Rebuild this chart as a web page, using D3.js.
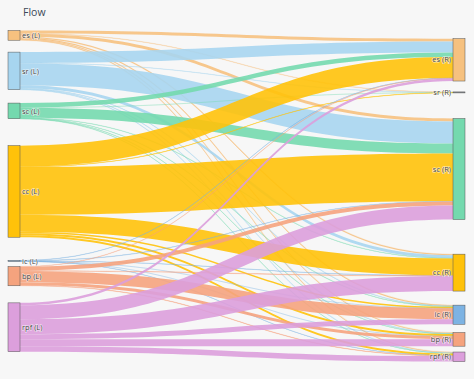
<!DOCTYPE html>
<html lang="en">
<head>
<meta charset="UTF-8">
<title>Flow</title>
<script src="https://d3js.org/d3.v7.min.js"></script>
<style>
  body { margin: 0; background: #fff; }
  svg { display: block; font-family: "Open Sans", Arial, sans-serif; }
  .lbl { font-size: 7.5px; fill: #444; paint-order: stroke; stroke: rgba(255,255,255,0.7); stroke-width: 1.2px; }
  .title { font-size: 10.5px; fill: #3c4858; }
</style>
</head>
<body>
<svg id="chart" width="474" height="379"></svg>
<script>
const sourceNames = ["es (L)", "sr (L)", "sc (L)", "cc (L)", "ic (L)", "bp (L)", "rpf (L)"];
const targetNames = ["es (R)", "sr (R)", "sc (R)", "cc (R)", "ic (R)", "bp (R)", "rpf (R)"];
const sourceColors = ["#f6c17f", "#a7d5ef", "#74d9ae", "#ffc20a", "#7db3e3", "#f5a37e", "#dc9fdc"];
const targetColors = ["#f6c17f", "#8a8f96", "#74d9ae", "#ffc20a", "#7db3e3", "#f5a37e", "#dc9fdc"];

// flow from each left node to es, sr, sc, cc, ic, bp, rpf on the right
const fromES  = [3, 0.4, 3, 1, 0.8, 0.8, 0.8];
const fromSR  = [11, 0.2, 22, 3, 0.5, 0.5, 0.5];
const fromSC  = [4.5, 0.1, 10, 0.3, 0.3, 0.3, 0.2];
const fromCC  = [21, 0.3, 48, 17, 1.5, 2, 2];
const fromIC  = [0.2, 0, 0.3, 0.2, 0.1, 0.1, 0.1];
const fromBP  = [0.3, 0, 4, 0.5, 11, 3, 0.5];
const fromRPF = [2.5, 0, 14, 15, 5, 7, 5.5];
const flows = [fromES, fromSR, fromSC, fromCC, fromIC, fromBP, fromRPF];

const width = 474, height = 379;
const yTop = 28, yBottom = 364;
const nodePad = 18.7, nodeW = 12;
const xLeft = 8, xRight = 453;

const svg = d3.select("#chart");

svg.append("rect")
    .attr("width", width)
    .attr("height", height)
    .attr("fill", "#f7f7f7");

const total = d3.sum(flows.flat());
const leftVals = flows.map(r => d3.sum(r));
const rightVals = targetNames.map((_, j) => d3.sum(flows, r => r[j]));

// node centres sit at their cumulative share of the column, heights use the padded scale
const yShare = d3.scaleLinear().domain([0, total]).range([yTop, yBottom]);
const ky = d3.scaleLinear().domain([0, total]).range([0, (yBottom - yTop) - 6 * nodePad]);

function column(vals, names, colors, x0) {
    let cum = 0;
    return vals.map((v, i) => {
        const cy = yShare(cum + v / 2);
        cum += v;
        const h = ky(v);
        return {name: names[i], color: colors[i], value: v, x0: x0, x1: x0 + nodeW,
                y0: cy - h / 2, y1: cy + h / 2, out: 0, inc: 0};
    });
}

const leftNodes = column(leftVals, sourceNames, sourceColors, xLeft);
const rightNodes = column(rightVals, targetNames, targetColors, xRight);

const links = [];
flows.forEach((row, i) => {
    row.forEach((v, j) => {
        if (v <= 0) return;
        links.push({source: leftNodes[i], target: rightNodes[j], value: v, w: ky(v)});
    });
});
// stack at source in target order, at target in source order
links.forEach(l => { l.sy = l.source.y0 + l.source.out; l.source.out += l.w; });
links.forEach(l => { l.ty = l.target.y0 + l.target.inc; l.target.inc += l.w; });

function band(l) {
    const x0 = l.source.x1, x1 = l.target.x0;
    const xm = x0 + (x1 - x0) * 0.5;
    const p = d3.path();
    p.moveTo(x0, l.sy);
    p.bezierCurveTo(xm, l.sy, xm, l.ty, x1, l.ty);
    p.lineTo(x1, l.ty + l.w);
    p.bezierCurveTo(xm, l.ty + l.w, xm, l.sy + l.w, x0, l.sy + l.w);
    p.closePath();
    return p.toString();
}

svg.append("g")
    .selectAll("path")
    .data(links)
    .join("path")
    .attr("d", band)
    .attr("fill", d => d.source.color)
    .attr("fill-opacity", 0.9)
    .attr("stroke", d => d.w < 1 ? d.source.color : "none")
    .attr("stroke-width", 0.3)
    .attr("stroke-opacity", 0.8);

const nodes = leftNodes.concat(rightNodes);

svg.append("g")
    .selectAll("rect")
    .data(nodes)
    .join("rect")
    .attr("x", d => d.x0)
    .attr("y", d => d.y0)
    .attr("width", nodeW)
    .attr("height", d => Math.max(0.5, d.y1 - d.y0))
    .attr("fill", d => d.color)
    .attr("stroke", "#555")
    .attr("stroke-width", 0.5);

svg.append("g")
    .selectAll("text")
    .data(nodes)
    .join("text")
    .attr("class", "lbl")
    .attr("x", d => d.x0 === xLeft ? d.x1 + 2 : d.x0 - 2)
    .attr("y", d => (d.y0 + d.y1) / 2)
    .attr("dy", "0.35em")
    .attr("text-anchor", d => d.x0 === xLeft ? "start" : "end")
    .text(d => d.name);

svg.append("text")
    .attr("class", "title")
    .attr("x", 23)
    .attr("y", 16)
    .text("Flow");
</script>
</body>
</html>
